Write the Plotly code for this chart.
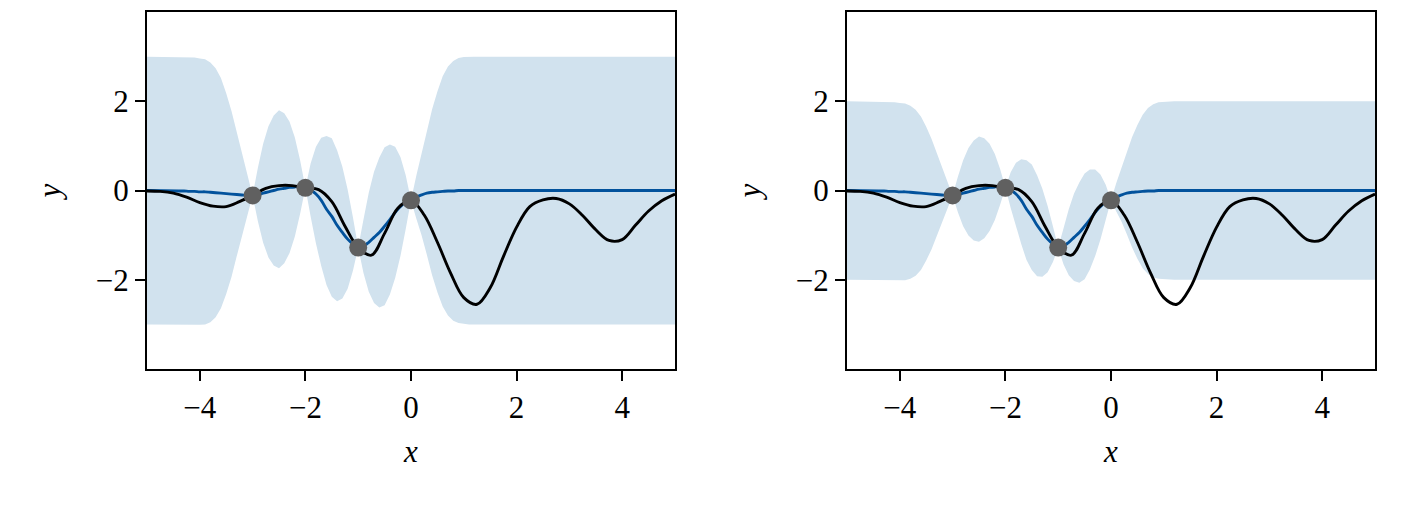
import plotly.graph_objects as go

# observed points
obs_x = [-3.0, -2.0, -1.0, 0.0]
obs_y = [-0.11, 0.06, -1.28, -0.22]

# true function (black)
x_true = [-5.0, -4.75, -4.5, -4.25, -4.0, -3.75, -3.5, -3.25, -3.0, -2.75,
          -2.5, -2.25, -2.0, -1.75, -1.5, -1.25, -1.0, -0.75, -0.5, -0.25,
          0.0, 0.25, 0.5, 0.75, 1.0, 1.25, 1.5, 1.75, 2.0, 2.25,
          2.5, 2.75, 3.0, 3.25, 3.5, 3.75, 4.0, 4.25, 4.5, 4.75, 5.0]
y_true = [-0.01, -0.02, -0.06, -0.15, -0.27, -0.35, -0.36, -0.25, -0.11, 0.05,
          0.11, 0.11, 0.06, 0.02, -0.25, -0.80, -1.28, -1.45, -0.96, -0.40,
          -0.22, -0.55, -1.16, -1.85, -2.40, -2.55, -2.18, -1.48, -0.82, -0.36,
          -0.21, -0.18, -0.30, -0.56, -0.88, -1.12, -1.10, -0.78, -0.46, -0.23, -0.08]

# posterior mean and band edges (read on a 0.1 grid)
x_band = [-5.0, -4.4, -4.3, -4.2, -4.1, -4.0, -3.9, -3.8, -3.7, -3.6, -3.5,
          -3.4, -3.3, -3.2, -3.1, -3.0, -2.9, -2.8, -2.7, -2.6, -2.5,
          -2.4, -2.3, -2.2, -2.1, -2.0, -1.9, -1.8, -1.7, -1.6, -1.5,
          -1.4, -1.3, -1.2, -1.1, -1.0, -0.9, -0.8, -0.7, -0.6, -0.5,
          -0.4, -0.3, -0.2, -0.1, 0.0, 0.1, 0.2, 0.3, 0.4, 0.5,
          0.6, 0.7, 0.8, 0.9, 1.0, 1.1, 1.2, 1.3, 1.4, 5.0]
mean = [0.00, -0.01, -0.01, -0.02, -0.02, -0.03, -0.03, -0.04, -0.05, -0.06, -0.07,
        -0.08, -0.09, -0.10, -0.11, -0.11, -0.09, -0.06, -0.03, 0.00, 0.03,
        0.05, 0.07, 0.08, 0.08, 0.06, 0.01, -0.08, -0.22, -0.42, -0.58,
        -0.78, -0.94, -1.09, -1.20, -1.28, -1.25, -1.16, -1.05, -0.94, -0.80,
        -0.65, -0.49, -0.36, -0.26, -0.22, -0.15, -0.10, -0.06, -0.04, -0.03,
        -0.02, -0.01, -0.01, 0.00, 0.00, 0.00, 0.00, 0.00, 0.00, 0.00]

upper_left = [3.00, 2.99, 2.99, 2.98, 2.98, 2.96, 2.94, 2.87, 2.74, 2.52, 2.18,
              1.78, 1.29, 0.80, 0.37, -0.11, 0.51, 1.05, 1.44, 1.68, 1.80,
              1.73, 1.54, 1.19, 0.68, 0.06, 0.61, 0.98, 1.18, 1.22, 1.17,
              0.90, 0.53, 0.02, -0.60, -1.28, -0.65, -0.05, 0.42, 0.74, 0.97,
              1.03, 0.98, 0.75, 0.34, -0.22, 0.33, 0.80, 1.32, 1.82, 2.22,
              2.56, 2.78, 2.90, 2.97, 2.99, 3.00, 3.00, 3.00, 3.00, 3.00]
lower_left = [-3.00, -3.01, -3.01, -3.02, -3.02, -3.01, -3.00, -2.95, -2.84, -2.64, -2.32,
              -1.94, -1.47, -1.00, -0.59, -0.11, -0.69, -1.17, -1.50, -1.68, -1.74,
              -1.63, -1.40, -1.03, -0.52, 0.06, -0.59, -1.19, -1.69, -2.12, -2.38,
              -2.48, -2.42, -2.20, -1.80, -1.28, -1.85, -2.27, -2.52, -2.62, -2.57,
              -2.33, -1.96, -1.47, -0.86, -0.22, -0.63, -1.00, -1.44, -1.90, -2.28,
              -2.60, -2.80, -2.92, -2.97, -2.99, -3.00, -3.00, -3.00, -3.00, -3.00]

upper_right = [2.00, 1.99, 1.99, 1.98, 1.98, 1.96, 1.95, 1.90, 1.81, 1.66, 1.43,
               1.16, 0.83, 0.50, 0.21, -0.11, 0.31, 0.68, 0.95, 1.12, 1.21,
               1.17, 1.05, 0.82, 0.48, 0.06, 0.41, 0.62, 0.70, 0.68, 0.58,
               0.34, 0.04, -0.35, -0.80, -1.28, -0.85, -0.42, -0.07, 0.18, 0.38,
               0.47, 0.47, 0.36, 0.13, -0.22, 0.17, 0.50, 0.86, 1.20, 1.47,
               1.70, 1.85, 1.93, 1.98, 1.99, 2.00, 2.00, 2.00, 2.00, 2.00]
lower_right = [-2.00, -2.01, -2.01, -2.02, -2.02, -2.02, -2.01, -1.98, -1.91, -1.78, -1.57,
               -1.32, -1.01, -0.70, -0.43, -0.11, -0.49, -0.80, -1.01, -1.12, -1.15,
               -1.07, -0.91, -0.66, -0.32, 0.06, -0.39, -0.82, -1.20, -1.56, -1.78,
               -1.92, -1.93, -1.83, -1.60, -1.28, -1.65, -1.90, -2.03, -2.07, -1.99,
               -1.77, -1.47, -1.10, -0.66, -0.22, -0.47, -0.70, -0.98, -1.28, -1.53,
               -1.74, -1.87, -1.95, -1.98, -1.99, -2.00, -2.00, -2.00, -2.00, -2.00]

band_color = "rgb(209, 226, 238)"
mean_color = "rgb(2, 82, 156)"
point_color = "rgb(96, 96, 96)"
label_font = dict(family="Liberation Serif", size=31, color="black")

# page has an 8px body margin, so the figure is placed at (8, 8)
W, H, OFF = 1403, 515, 8


def xdom(a, b):
    return [(a - OFF) / W, (b - OFF) / W]


def ydom(top, bottom):
    return [(H - (bottom - OFF)) / H, (H - (top - OFF)) / H]


fig = go.Figure()

panels = [("x", "y", upper_left, lower_left), ("x2", "y2", upper_right, lower_right)]
for xa, ya, up, lo in panels:
    fig.add_trace(go.Scatter(x=x_band, y=lo, mode="lines", xaxis=xa, yaxis=ya,
                             line=dict(width=0), hoverinfo="skip", showlegend=False))
    fig.add_trace(go.Scatter(x=x_band, y=up, mode="lines", xaxis=xa, yaxis=ya,
                             line=dict(width=0), fill="tonexty",
                             fillcolor=band_color, hoverinfo="skip", showlegend=False))
    fig.add_trace(go.Scatter(x=x_band, y=mean, mode="lines", xaxis=xa, yaxis=ya,
                             line=dict(color=mean_color, width=2.9, shape="spline"),
                             showlegend=False))
    fig.add_trace(go.Scatter(x=x_true, y=y_true, mode="lines", xaxis=xa, yaxis=ya,
                             line=dict(color="black", width=2.9, shape="spline"),
                             showlegend=False))
    fig.add_trace(go.Scatter(x=obs_x, y=obs_y, mode="markers", xaxis=xa, yaxis=ya,
                             marker=dict(color=point_color, size=18),
                             showlegend=False))


def xaxis_opts(dom, anchor):
    return dict(domain=dom, anchor=anchor, range=[-5, 5], tickvals=[-4, -2, 0, 2, 4],
                ticks="outside", ticklen=10, tickwidth=2, tickcolor="black",
                showline=True, mirror=True, linecolor="black", linewidth=2,
                showgrid=False, zeroline=False, tickfont=label_font, automargin=False,
                title=dict(text="<i>x</i>", standoff=16, font=label_font))


def yaxis_opts(dom, anchor):
    return dict(domain=dom, anchor=anchor, range=[-4, 4], tickvals=[-2, 0, 2],
                ticks="outside", ticklen=10, tickwidth=2, tickcolor="black",
                showline=True, mirror=True, linecolor="black", linewidth=2,
                showgrid=False, zeroline=False, tickfont=label_font, automargin=False,
                title=dict(text="<i>y</i>", standoff=26, font=label_font))


fig.update_layout(
    width=W, height=H,
    margin=dict(l=0, r=0, t=0, b=0),
    paper_bgcolor="white", plot_bgcolor="white",
    xaxis=xaxis_opts(xdom(147, 675), "y"),
    yaxis=yaxis_opts(ydom(12, 369), "x"),
    xaxis2=xaxis_opts(xdom(847, 1375), "y2"),
    yaxis2=yaxis_opts(ydom(12, 369), "x2"),
)

fig.write_html("out.html")
